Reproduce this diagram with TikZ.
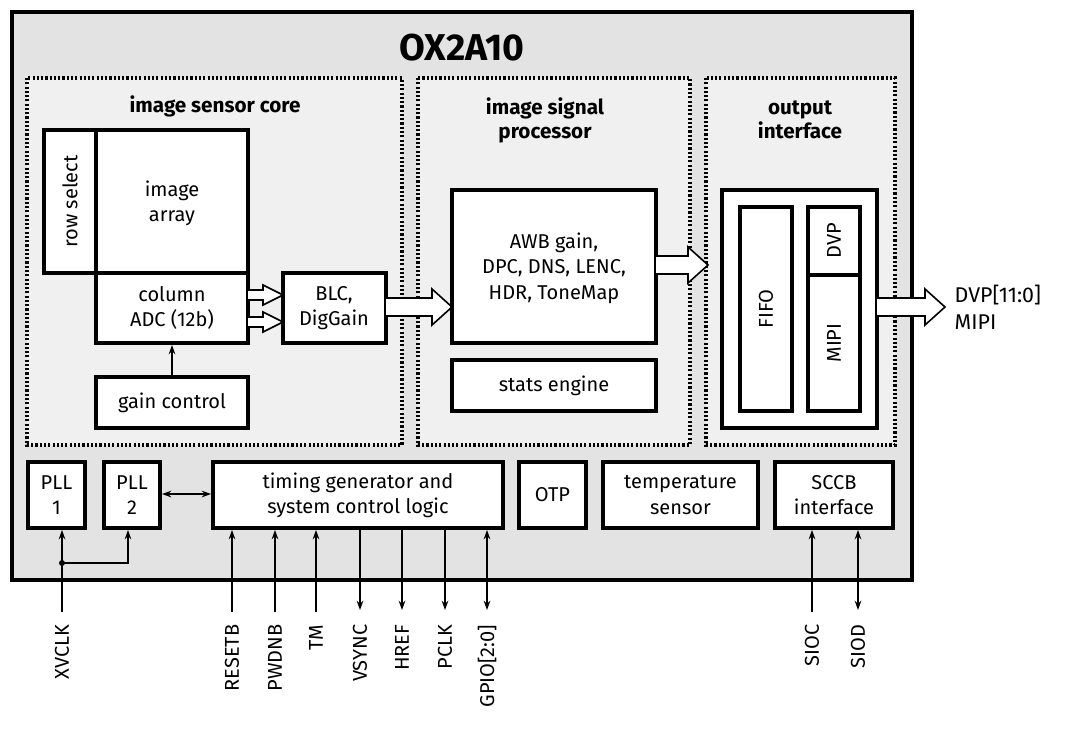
\documentclass[tikz,border=0pt]{standalone}
\usepackage{fontspec}
\setmainfont{Fira Sans}
\usetikzlibrary{arrows.meta}
\newcommand{\harr}[5]{% x1 x2 y shaft-half head-half
 \draw[line width=1.2pt,fill=white,line join=miter] (#1,#3-#4) -- (#2-20,#3-#4) -- (#2-20,#3-#5) -- (#2,#3) -- (#2-20,#3+#5) -- (#2-20,#3+#4) -- (#1,#3+#4);}
\begin{document}
\begin{tikzpicture}[x=0.75pt,y=-0.75pt,
 box/.style={draw,line width=2.4pt,fill=white,align=center,font=\fontsize{15}{17}\selectfont},
 dot/.style={draw,line width=2.4pt,dash pattern=on 1.6pt off 1.6pt,fill=gray!12},
 hd/.style={font=\bfseries\fontsize{15.5}{18}\selectfont,align=center},
 sig/.style={font=\fontsize{15}{16}\selectfont,rotate=90,anchor=east},
 ln/.style={line width=1pt},
 tip/.style={-{Stealth[length=7pt,width=5pt]}},
 both/.style={{Stealth[length=7pt,width=5pt]}-{Stealth[length=7pt,width=5pt]}}]
\useasboundingbox (0,0) rectangle (1068,729);
\draw[line width=3pt,fill=gray!22] (12,12) rectangle (912,580);
\node[font=\bfseries\fontsize{28}{30}\selectfont] (t) at (462,48) {OX2A10};
\draw[dot] (27,78) rectangle (402,445);
\draw[dot] (418,78) rectangle (690,445);
\draw[dot] (706,78) rectangle (895,445);
\node[hd] (h1) at (215,106) {image sensor core};
\node[hd] (h2) at (545,120) {image signal\\processor};
\node[hd] (h3) at (800,120) {output\\interface};
\draw[box] (44,130) rectangle (96,273) node[midway,rotate=90,font=\fontsize{15}{17}\selectfont] (rs) {row select};
\draw[box] (96,130) rectangle (248,273);
\node[align=center,font=\fontsize{15}{19}\selectfont] (ia) at (172,203) {image\\array};
\draw[box] (96,273) rectangle (248,343);
\node[align=center,font=\fontsize{15}{19}\selectfont] (adc) at (172,308) {column\\ADC (12b)};
\draw[box] (96,377) rectangle (248,428) node[midway] (gc) {gain control};
\draw[ln,tip] (172,377) -- (172,345);
\draw[box] (283,273) rectangle (386,343);
\node[align=center,font=\fontsize{15}{19}\selectfont] (blc) at (334,308) {BLC,\\DigGain};
\harr{248}{283}{295}{5}{10}
\harr{248}{283}{322}{5}{10}
\harr{386}{452}{307}{9}{18}
\draw[box] (452,190) rectangle (656,343);
\node[align=center,font=\fontsize{15}{19}\selectfont] (awb) at (554,268) {AWB gain,\\DPC, DNS, LENC,\\HDR, ToneMap};
\draw[box] (452,360) rectangle (656,411) node[midway] (st) {stats engine};
\harr{656}{708}{265}{9}{18}
\draw[box] (722,190) rectangle (877,428);
\draw[box] (740,207) rectangle (792,411) node[midway,rotate=90] (fifo) {FIFO};
\draw[box] (808,207) rectangle (860,275) node[midway,rotate=90] (dvp) {DVP};
\draw[box] (808,275) rectangle (860,411) node[midway,rotate=90] (mipi) {MIPI};
\harr{877}{945}{307}{9}{18}
\node[anchor=west,align=left,font=\fontsize{16}{20}\selectfont] (out) at (950,307) {DVP[11:0]\\MIPI};
\draw[box] (28,462) rectangle (85,528) node[midway,font=\fontsize{15}{19}\selectfont] (p1) {PLL\\1};
\draw[box] (104,462) rectangle (160,528) node[midway,font=\fontsize{15}{19}\selectfont] (p2) {PLL\\2};
\draw[box] (213,462) rectangle (503,528) node[midway,font=\fontsize{15}{19}\selectfont] (tg) {timing generator and\\system control logic};
\draw[box] (519,462) rectangle (586,528) node[midway] (otp) {OTP};
\draw[box] (603,462) rectangle (758,528) node[midway,font=\fontsize{15}{19}\selectfont] (ts) {temperature\\sensor};
\draw[box] (775,462) rectangle (893,528) node[midway,font=\fontsize{15}{19}\selectfont] (sc) {SCCB\\interface};
\draw[ln,both] (162,494) -- (211,494);
\coordinate (xa) at (62,612);
\coordinate (xd) at (62,563);
\fill (xd) circle (3);
\draw[ln,tip] (xa) -- (62,530);
\draw[ln,tip] (xd) -- (128,563) -- (128,530);
\node[sig] (xv) at (62,620) {XVCLK};
\foreach \x/\n/\d in {232/RESETB/1,275/PWDNB/1,316/TM/1,360/VSYNC/2,402/HREF/2,445/PCLK/2,487/GPIO[2:0]/3,812/SIOC/1,858/SIOD/3}{
 \ifnum\d=1 \draw[ln,tip] (\x,612) -- (\x,530);\fi
 \ifnum\d=2 \draw[ln,tip] (\x,528) -- (\x,610);\fi
 \ifnum\d=3 \draw[ln,both] (\x,530) -- (\x,610);\fi
 \node[sig] at (\x,620) {\n};
}
\end{tikzpicture}
\end{document}
